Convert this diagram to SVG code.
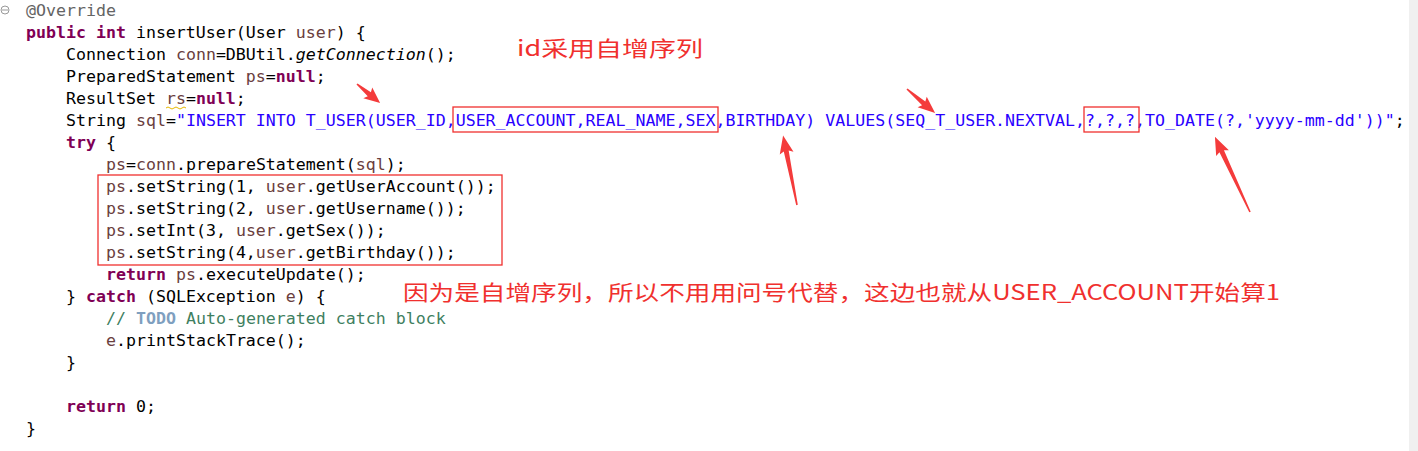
<svg xmlns="http://www.w3.org/2000/svg" width="1418" height="451" viewBox="0 0 1418 451">
<style>
.c{font-family:"DejaVu Sans Mono","Liberation Mono",monospace;font-size:16.6px;fill:#000}
.k{fill:#7f0055;font-weight:bold}
.s{fill:#2a00ff}
.v{fill:#6a3e3e}
.a{fill:#646464}
.cm{fill:#3f7f5f}
.td{fill:#7f9fbf;font-weight:bold}
.it{font-style:italic}
.box{fill:none;stroke:#f0302e;stroke-width:1.3}
.ar{fill:#f43b3b}
.red{font-family:"Noto Sans CJK SC","Liberation Serif",serif;fill:#f0302e;font-size:21px}
</style>
<rect width="1418" height="451" fill="#fff"/>
<rect x="1409" y="0" width="9" height="451" fill="#f0f0f0"/>
<circle cx="5" cy="10" r="4" fill="none" stroke="#999"/>
<line x1="2" y1="10" x2="8" y2="10" stroke="#999"/>
<g id="code" class="c">
<text x="26" y="16" class="a">@Override</text>
<text x="26" y="38"><tspan class="k">public int</tspan> insertUser(User <tspan class="v">user</tspan>) {</text>
<text x="66" y="60">Connection <tspan class="v">conn</tspan>=DBUtil.<tspan class="it">getConnection</tspan>();</text>
<text x="66" y="82">PreparedStatement <tspan class="v">ps</tspan>=<tspan class="k">null</tspan>;</text>
<text x="66" y="104">ResultSet <tspan class="v">rs</tspan>=<tspan class="k">null</tspan>;</text>
<text x="66" y="126">String <tspan class="v">sql</tspan>=<tspan class="s">"INSERT INTO T_USER(USER_ID,USER_ACCOUNT,REAL_NAME,SEX,BIRTHDAY) VALUES(SEQ_T_USER.NEXTVAL,?,?,?,TO_DATE(?,'yyyy-mm-dd'))"</tspan>;</text>
<text x="66" y="148"><tspan class="k">try</tspan> {</text>
<text x="106" y="170"><tspan class="v">ps</tspan>=<tspan class="v">conn</tspan>.prepareStatement(<tspan class="v">sql</tspan>);</text>
<text x="106" y="192"><tspan class="v">ps</tspan>.setString(1, <tspan class="v">user</tspan>.getUserAccount());</text>
<text x="106" y="214"><tspan class="v">ps</tspan>.setString(2, <tspan class="v">user</tspan>.getUsername());</text>
<text x="106" y="236"><tspan class="v">ps</tspan>.setInt(3, <tspan class="v">user</tspan>.getSex());</text>
<text x="106" y="258"><tspan class="v">ps</tspan>.setString(4,<tspan class="v">user</tspan>.getBirthday());</text>
<text x="106" y="280"><tspan class="k">return</tspan> <tspan class="v">ps</tspan>.executeUpdate();</text>
<text x="66" y="302">} <tspan class="k">catch</tspan> (SQLException <tspan class="v">e</tspan>) {</text>
<text x="106" y="324" class="cm">// <tspan class="td">TODO</tspan> Auto-generated catch block</text>
<text x="106" y="346"><tspan class="v">e</tspan>.printStackTrace();</text>
<text x="66" y="368">}</text>
<text x="66" y="412"><tspan class="k">return</tspan> 0;</text>
<text x="26" y="434">}</text>
</g>
<path d="M166 108 q2 -2 4 0 q2 2 4 0 q2 -2 4 0 q2 2 4 0 q2 -2 4 0" fill="none" stroke="#e6b800" stroke-width="1"/>
<g id="boxes">
<rect class="box" x="453" y="107" width="265" height="25"/>
<rect class="box" x="1084" y="107" width="55" height="25"/>
<rect class="box" x="98" y="175" width="404" height="90"/>
</g>
<g id="arrows">
<polygon class="ar" transform="translate(357,84) rotate(39.6)" points="0,-0.8 16,-2.5 14,-7 30,0 14,7 16,2.5 0,0.8"/>
<polygon class="ar" transform="translate(797,205) rotate(-101.3)" points="0,-0.8 55,-2.5 53,-7 71,0 53,7 55,2.5 0,0.8"/>
<polygon class="ar" transform="translate(907,89) rotate(40.6)" points="0,-0.8 22,-2.5 20,-7 37,0 20,7 22,2.5 0,0.8"/>
<polygon class="ar" transform="translate(1250,212) rotate(-115)" points="0,-0.8 67,-2.5 65,-7 83,0 65,7 67,2.5 0,0.8"/>
</g>
<g id="notes">
<text class="red" x="517" y="56" font-size="25" textLength="186" lengthAdjust="spacingAndGlyphs">id采用自增序列</text>
<text class="red" x="403" y="300" textLength="877" lengthAdjust="spacingAndGlyphs">因为是自增序列，所以不用用问号代替，这边也就从USER_ACCOUNT开始算1</text>
</g>
</svg>
